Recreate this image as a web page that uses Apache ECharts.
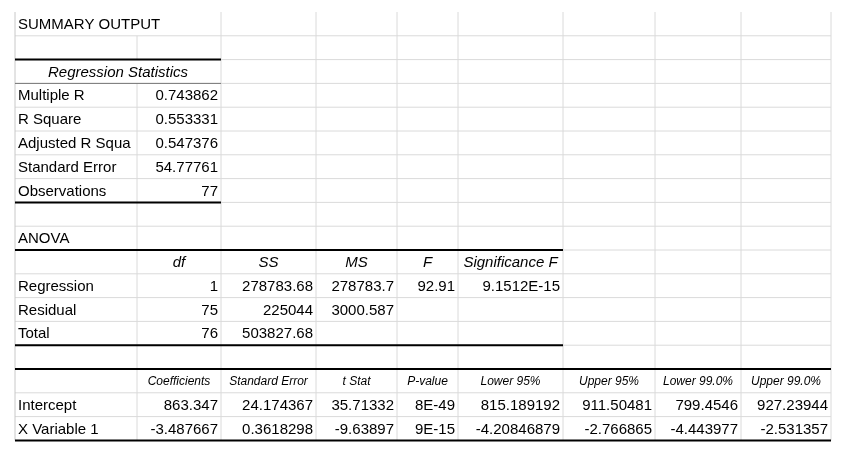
<!DOCTYPE html>
<html><head><meta charset="utf-8">
<script src="https://cdn.jsdelivr.net/npm/echarts@6/dist/echarts.min.js"></script>
<style>html,body{margin:0;padding:0;background:#fff}#c{width:842px;height:449px}</style>
</head><body><div id="c"></div>
<script>
const title = 'SUMMARY OUTPUT';
const regStatTitle = 'Regression Statistics';
const regStatLabels = ['Multiple R','R Square','Adjusted R Squa','Standard Error','Observations'];
const regStatValues = ['0.743862','0.553331','0.547376','54.77761','77'];
const anovaTitle = 'ANOVA';
const anovaHeaders = ['df','SS','MS','F','Significance F'];
const anovaLabels = ['Regression','Residual','Total'];
const anovaValues = [
  ['1','278783.68','278783.7','92.91','9.1512E-15'],
  ['75','225044','3000.587','',''],
  ['76','503827.68','','','']
];
const coefHeaders = ['Coefficients','Standard Error','t Stat','P-value','Lower 95%','Upper 95%','Lower 99.0%','Upper 99.0%'];
const coefLabels = ['Intercept','X Variable 1'];
const coefValues = [
  ['863.347','24.174367','35.71332','8E-49','815.189192','911.50481','799.4546','927.23944'],
  ['-3.487667','0.3618298','-9.63897','9E-15','-4.20846879','-2.766865','-4.443977','-2.531357']
];

// layout
const edges = [15,137,221,316,397,458,563,655,741,831];
const TOP = 12, RH = 23.8, NROWS = 18;
const rowY = r => TOP + r*RH;
const FONT = "'Liberation Sans Narrow','Liberation Sans',sans-serif";

const cells = [];
function add(c, r, text, align, opt) { if (text !== '') cells.push(Object.assign({c, r, text, align}, opt||{})); }
add(0,0,title,'left',{span:2});
cells.push({c:0,r:2,text:regStatTitle,align:'center',italic:true,span:2});
regStatLabels.forEach((t,i)=>{ add(0,3+i,t,'left'); add(1,3+i,regStatValues[i],'right'); });
add(0,9,anovaTitle,'left');
anovaHeaders.forEach((t,i)=>add(1+i,10,t,'center',{italic:true}));
anovaLabels.forEach((t,i)=>{ add(0,11+i,t,'left'); anovaValues[i].forEach((v,j)=>add(1+j,11+i,v,'right')); });
coefHeaders.forEach((t,i)=>add(1+i,15,t,'center',{italic:true,small:true}));
coefLabels.forEach((t,i)=>{ add(0,16+i,t,'left'); coefValues[i].forEach((v,j)=>add(1+j,16+i,v,'right')); });

// grid lines [x1,y1,x2,y2,color,width]
const lines = [];
const G = '#dadada';
for (let r=1;r<NROWS;r++) lines.push([edges[0],rowY(r),edges[9],rowY(r),G,1]);
edges.forEach((x,i)=>{
  if (i===1) { lines.push([x,rowY(1),x,rowY(2),G,1]); lines.push([x,rowY(3),x,rowY(NROWS),G,1]); }
  else lines.push([x,TOP,x,rowY(NROWS),i===0?'#c8c8c8':G,1]);
});
lines.push([edges[0],rowY(2),edges[2],rowY(2),'#000',2]);
lines.push([edges[0],rowY(3),edges[2],rowY(3),'#777',1]);
lines.push([edges[0],rowY(8),edges[2],rowY(8),'#000',2]);
lines.push([edges[0],rowY(10),edges[6],rowY(10),'#000',2]);
lines.push([edges[0],rowY(14),edges[6],rowY(14),'#000',2]);
lines.push([edges[0],rowY(15),edges[9],rowY(15),'#000',2]);
lines.push([edges[0],rowY(18),edges[9],rowY(18),'#000',2]);

const chart = echarts.init(document.getElementById('c'));
chart.setOption({
  animation:false,
  grid:{left:0,right:0,top:0,bottom:0},
  xAxis:{type:'value',min:0,max:842,show:false},
  yAxis:{type:'value',min:0,max:449,inverse:true,show:false},
  series:[
    {type:'custom',data:lines.map((l,i)=>[l[0],l[1],i]),
     renderItem:(p,api)=>{const l=lines[api.value(2)];
       const a=api.coord([l[0],l[1]]),b=api.coord([l[2],l[3]]);
       return {type:'line',shape:{x1:a[0],y1:a[1],x2:b[0],y2:b[1]},style:{stroke:l[4],lineWidth:l[5]}};}},
    {type:'custom',data:cells.map((c,i)=>[edges[c.c],rowY(c.r),i]),
     renderItem:(p,api)=>{const c=cells[api.value(2)];
       const x0=api.coord([edges[c.c],rowY(c.r)]), x1=api.coord([edges[c.c+(c.span||1)],rowY(c.r+1)]);
       let x = c.align==='left'? x0[0]+3 : c.align==='right'? x1[0]-3 : (x0[0]+x1[0])/2;
       return {type:'text',style:{text:c.text,x:x,y:(x0[1]+x1[1])/2+1,align:c.align,verticalAlign:'middle',
         fill:'#000',fontFamily:FONT,fontSize:c.small?12:15,fontStyle:c.italic?'italic':'normal',
         width:c.align==='left'&&!c.span? (x1[0]-x0[0]-4):undefined,overflow:'truncate',ellipsis:''}};}}
  ]
});
</script></body></html>
